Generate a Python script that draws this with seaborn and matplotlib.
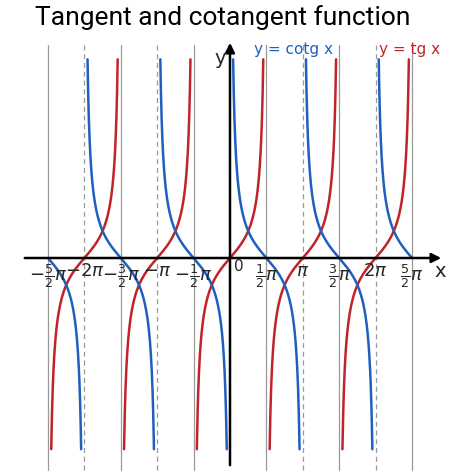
import numpy as np
import matplotlib
matplotlib.use("Agg")
import matplotlib.pyplot as plt
import seaborn as sns

sns.set_style("white")

# data: asymptotes and tick labels
tan_asym = [-2.5, -1.5, -0.5, 0.5, 1.5, 2.5]   # in units of pi
cot_asym = [-2, -1, 1, 2]
tick_pos = [-2.5, -2, -1.5, -1, -0.5, 0.5, 1, 1.5, 2, 2.5]
tick_lab = [r'$-\frac{5}{2}\pi$', r'$-2\pi$', r'$-\frac{3}{2}\pi$', r'$-\pi$', r'$-\frac{1}{2}\pi$',
            r'$\frac{1}{2}\pi$', r'$\pi$', r'$\frac{3}{2}\pi$', r'$2\pi$', r'$\frac{5}{2}\pi$']

PX = 72.8 / np.pi   # pixels per x unit
PY = 27.0           # pixels per y unit
xmin = -2.5 * np.pi - 48 / PX
xmax = xmin + 474 / PX
ymax = 258 / PY
ymin = ymax - 474 / PY
ytop, ybot = (258 - 58) / PY, (258 - 455) / PY
ltop, lbot = (258 - 45) / PY, (258 - 470) / PY

fig = plt.figure(figsize=(4.74, 4.74), dpi=100)
ax = fig.add_axes([0, 0, 1, 1])
ax.set_xlim(xmin, xmax)
ax.set_ylim(ymin, ymax)
ax.axis('off')

for a in tan_asym:
    ax.plot([a * np.pi] * 2, [lbot, ltop], color='#999999', lw=0.9)
for a in cot_asym:
    ax.plot([a * np.pi] * 2, [lbot, ltop], color='#999999', lw=0.9, ls=(0, (4, 3)))

# tangent branches
for k in range(-3, 3):
    c = k * np.pi + np.pi
    x = np.linspace(c - np.pi / 2 + 0.01, c + np.pi / 2 - 0.01, 600)
    x = x[(x > -2.5 * np.pi) & (x < 2.5 * np.pi)]
    if len(x) == 0:
        continue
    y = np.tan(x)
    m = (y < ytop) & (y > ybot)
    sns.lineplot(x=x[m], y=y[m], ax=ax, color='#c0242b', lw=1.8, sort=False)
# cotangent branches
for k in range(-3, 3):
    x = np.linspace(k * np.pi + 0.01, (k + 1) * np.pi - 0.01, 600)
    x = x[(x > -2.5 * np.pi) & (x < 2.5 * np.pi)]
    if len(x) == 0:
        continue
    y = 1 / np.tan(x)
    m = (y < ytop) & (y > ybot)
    sns.lineplot(x=x[m], y=y[m], ax=ax, color='#1f5fbf', lw=1.8, sort=False)

# axes with arrows
ax.annotate('', xy=(xmax - 30 / PX, 0), xytext=(xmin + 22 / PX, 0),
            arrowprops=dict(arrowstyle='-|>', color='black', lw=1.8, mutation_scale=14))
ax.annotate('', xy=(0, ymax - 40 / PY), xytext=(0, ymin + 6 / PY),
            arrowprops=dict(arrowstyle='-|>', color='black', lw=1.8, mutation_scale=14))

for p, l in zip(tick_pos, tick_lab):
    ax.text(p * np.pi, -4 / PY, l, ha='center', va='top', fontsize=13)
ax.text(4 / PX, -1 / PY, '0', ha='left', va='top', fontsize=11)
ax.text(xmax - 40 / PX, -4 / PY, 'x', ha='left', va='top', fontsize=14)
ax.text(-4 / PX, ymax - 58 / PY, 'y', ha='right', va='center', fontsize=14)
ax.text(2.5 * np.pi + 28 / PX, ymax - 50 / PY, 'y = tg x', ha='right', va='center',
        fontsize=11, color='#c0242b')
ax.text(np.pi + 30 / PX, ymax - 50 / PY, 'y = cotg x', ha='right', va='center',
        fontsize=11, color='#1f5fbf')
fig.text(0.47, 0.962, 'Tangent and cotangent function', ha='center', va='center',
         fontsize=19, family='Roboto', color='black')

fig.savefig('out.png', dpi=100)
